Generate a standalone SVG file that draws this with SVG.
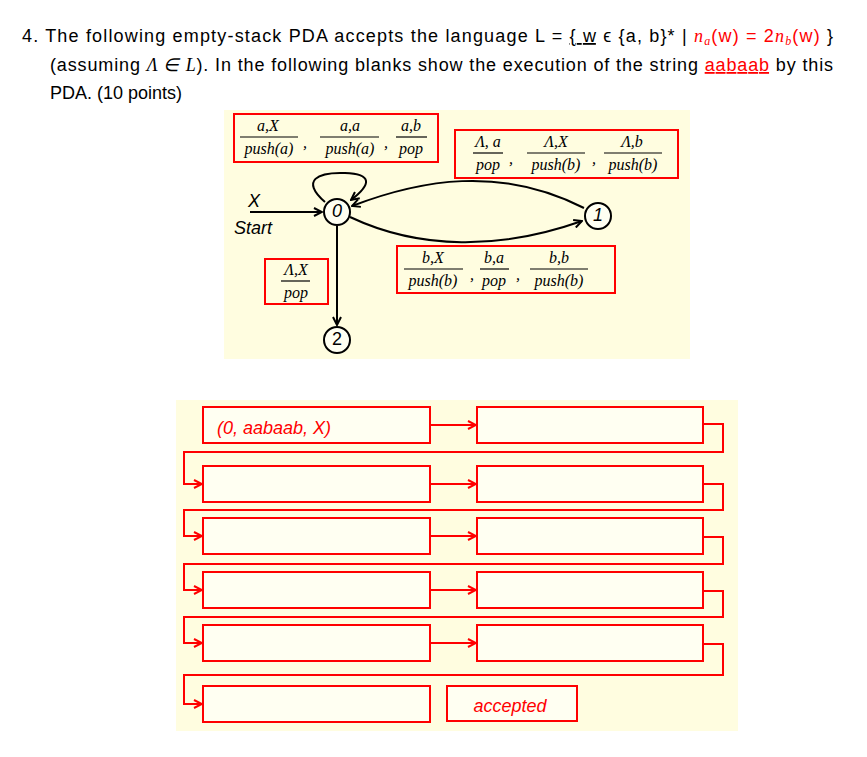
<svg xmlns="http://www.w3.org/2000/svg" width="867" height="757" viewBox="0 0 867 757">
<style>
.t{font-family:"Liberation Sans",Arial,sans-serif;font-size:18px;fill:#000}
.m{font-family:"Liberation Serif",serif;font-style:italic;font-size:16px;fill:#000;text-anchor:middle}
.lb{fill:none;stroke:#f00;stroke-width:2}
.bx{fill:#fffff2;stroke:#f00;stroke-width:2}
.fr{stroke:#000;stroke-width:1.2}
.st{fill:#fffff2;stroke:#000;stroke-width:2}
.e{fill:none;stroke:#000;stroke-width:2}
.r{fill:none;stroke:#f00;stroke-width:2}
</style>
<defs>
<marker id="ab" markerWidth="10" markerHeight="10" refX="9" refY="5" orient="auto" markerUnits="userSpaceOnUse"><path d="M1,1 L9,5 L1,9" fill="none" stroke="#000" stroke-width="2"/></marker>
<marker id="ar" markerWidth="10" markerHeight="10" refX="9" refY="5" orient="auto" markerUnits="userSpaceOnUse"><path d="M1,1 L9,5 L1,9" fill="none" stroke="#f00" stroke-width="2"/></marker>
</defs>
<rect width="867" height="757" fill="#fff"/>
<g id="header">
<text class="t" x="22" y="42" textLength="811" lengthAdjust="spacing">4.  The following empty-stack PDA accepts the language L = <tspan text-decoration="underline">{ w</tspan> ϵ {a, b}* | <tspan fill="#f00" font-family="Liberation Serif" font-style="italic">n<tspan font-size="12" dy="3">a</tspan></tspan><tspan fill="#f00" dy="-3">(w) = 2</tspan><tspan fill="#f00" font-family="Liberation Serif" font-style="italic">n<tspan font-size="12" dy="3">b</tspan></tspan><tspan fill="#f00" dy="-3">(w)</tspan> }</text>
<text class="t" x="50" y="71" textLength="783" lengthAdjust="spacing">(assuming <tspan font-family="Liberation Serif" font-style="italic">Λ ∈ L</tspan>). In the following blanks show the execution of the string <tspan fill="#f00" text-decoration="underline">aabaab</tspan> by this</text>
<text class="t" x="50" y="99">PDA.    (10 points)</text>
</g>
<rect x="224" y="110" width="466" height="249" fill="#fffde0"/>
<rect x="176" y="400" width="562" height="331" fill="#fffde0"/>
<g id="lab1">
<rect class="lb" x="234" y="114" width="204" height="48"/>
<text class="m" x="268" y="131">a,X</text><line class="fr" x1="240" y1="137" x2="298" y2="137"/><text class="m" x="269" y="154">push(a)</text>
<text class="m" x="305" y="148">,</text>
<text class="m" x="350" y="131">a,a</text><line class="fr" x1="320" y1="137" x2="379" y2="137"/><text class="m" x="350" y="154">push(a)</text>
<text class="m" x="386" y="148">,</text>
<text class="m" x="411" y="131">a,b</text><line class="fr" x1="396" y1="137" x2="427" y2="137"/><text class="m" x="411" y="154">pop</text>
</g>
<g id="lab2">
<rect class="lb" x="455" y="130" width="223" height="48"/>
<text class="m" x="488" y="147">Λ, a</text><line class="fr" x1="473" y1="153" x2="503" y2="153"/><text class="m" x="488" y="170">pop</text>
<text class="m" x="511" y="164">,</text>
<text class="m" x="556" y="147">Λ,X</text><line class="fr" x1="527" y1="153" x2="585" y2="153"/><text class="m" x="556" y="170">push(b)</text>
<text class="m" x="594" y="164">,</text>
<text class="m" x="632" y="147">Λ,b</text><line class="fr" x1="604" y1="153" x2="662" y2="153"/><text class="m" x="633" y="170">push(b)</text>
</g>
<g id="lab3">
<rect class="lb" x="397" y="246" width="218" height="47"/>
<text class="m" x="433" y="263">b,X</text><line class="fr" x1="404" y1="269" x2="463" y2="269"/><text class="m" x="433" y="286">push(b)</text>
<text class="m" x="472" y="280">,</text>
<text class="m" x="494" y="263">b,a</text><line class="fr" x1="480" y1="269" x2="509" y2="269"/><text class="m" x="494" y="286">pop</text>
<text class="m" x="518" y="280">,</text>
<text class="m" x="559" y="263">b,b</text><line class="fr" x1="530" y1="269" x2="588" y2="269"/><text class="m" x="559" y="286">push(b)</text>
</g>
<g id="lab4">
<rect class="lb" x="265" y="259" width="63" height="45"/>
<text class="m" x="296" y="275">Λ,X</text><line class="fr" x1="281" y1="281" x2="310" y2="281"/><text class="m" x="296" y="298">pop</text>
</g>
<g id="connectors">
<line class="e" x1="250" y1="212" x2="322" y2="212" marker-end="url(#ab)"/>
<path class="e" d="M325,202 C300,180 318,172 345,173 C372,174 372,184 351,200" marker-end="url(#ab)"/>
<path class="e" d="M350,217 C420,250 500,250 582,221" marker-end="url(#ab)"/>
<path class="e" d="M584,208 C500,165 420,180 352,206" marker-end="url(#ab)"/>
<line class="e" x1="337" y1="226" x2="337" y2="325" marker-end="url(#ab)"/>
<text class="t" x="248" y="207" font-style="italic" font-size="16">X</text>
<text class="t" x="234" y="234" font-style="italic" font-size="16">Start</text>
</g>
<g id="s0"><circle class="st" cx="337" cy="212" r="13"/><text class="t" x="337" y="217" font-size="13" font-style="italic" text-anchor="middle">0</text></g>
<g id="s1"><circle class="st" cx="598" cy="216" r="13"/><text class="t" x="598" y="221" font-size="13" font-style="italic" text-anchor="middle">1</text></g>
<g id="s2"><circle class="st" cx="337" cy="340" r="13"/><text class="t" x="337" y="345" font-size="13" text-anchor="middle">2</text></g>
<g id="exec">
<rect class="bx" x="203" y="407" width="227" height="36"/>
<text class="t" x="217" y="434" font-size="23" font-style="italic" style="fill:#f00">(0, aabaab, X)</text>
<rect class="bx" x="477" y="407" width="226" height="36"/>
<rect class="bx" x="203" y="466" width="227" height="36"/><rect class="bx" x="477" y="466" width="226" height="36"/>
<rect class="bx" x="203" y="518" width="227" height="36"/><rect class="bx" x="477" y="518" width="226" height="36"/>
<rect class="bx" x="203" y="572" width="227" height="36"/><rect class="bx" x="477" y="572" width="226" height="36"/>
<rect class="bx" x="203" y="625" width="227" height="36"/><rect class="bx" x="477" y="625" width="226" height="36"/>
<rect class="bx" x="203" y="686" width="227" height="36"/>
<rect class="bx" x="447" y="686" width="130" height="35"/>
<text class="t" x="510" y="712" font-size="23" font-style="italic" text-anchor="middle" style="fill:#f00">accepted</text>
</g>
<g id="flow">
<line class="r" x1="430" y1="425" x2="476" y2="425" marker-end="url(#ar)"/>
<path class="r" d="M703,424 H723 V452 H184 V484 H202" marker-end="url(#ar)"/>
<line class="r" x1="430" y1="484" x2="476" y2="484" marker-end="url(#ar)"/>
<path class="r" d="M703,484 H723 V510 H184 V536 H202" marker-end="url(#ar)"/>
<line class="r" x1="430" y1="536" x2="476" y2="536" marker-end="url(#ar)"/>
<path class="r" d="M703,537 H723 V564 H184 V590 H202" marker-end="url(#ar)"/>
<line class="r" x1="430" y1="590" x2="476" y2="590" marker-end="url(#ar)"/>
<path class="r" d="M703,591 H723 V617 H184 V643 H202" marker-end="url(#ar)"/>
<line class="r" x1="430" y1="643" x2="476" y2="643" marker-end="url(#ar)"/>
<path class="r" d="M703,644 H723 V675 H184 V704 H202" marker-end="url(#ar)"/>
</g>
</svg>
